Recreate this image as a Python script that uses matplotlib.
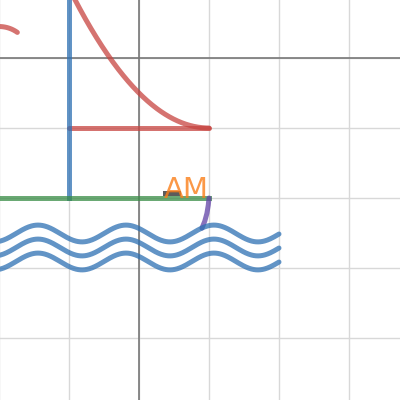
import numpy as np
import matplotlib.pyplot as plt

# Desmos-style colours
red = "#c74440"
blue = "#2d70b3"
green = "#388c46"
purple = "#6042a6"
orange = "#fa7e19"

# curve definitions (graph units)
wave_centers = [-2.507, -2.707, -2.907]
wave_amp = 0.12
wave_freq = 5.0
wave_shift = 0.186
wave_x_range = (-2.1, 2.0)

red_x_range = (-1.0, 1.0)
red_line_y = -1.0
blue_line_x = -1.0
blue_line_top = 1.0
green_line_y = -2.0
green_x_range = (-2.1, 1.0)
purple_x = [1.0, 0.99, 0.97, 0.94, 0.9]
purple_y = [-2.0, -2.1, -2.22, -2.33, -2.43]
label_text = "AM"

fig = plt.figure(figsize=(4, 4), dpi=100)
ax = fig.add_axes([0, 0, 1, 1])
ax.set_xlim(-1.986, 3.729)
ax.set_ylim(-4.886, 0.829)

for gx in np.arange(-2, 4):
    ax.axvline(gx, color="#d8d8d8", lw=1, zorder=0)
for gy in np.arange(-5, 1):
    ax.axhline(gy, color="#d8d8d8", lw=1, zorder=0)
ax.axvline(0, color="#777777", lw=1.2, zorder=1)
ax.axhline(0, color="#777777", lw=1.2, zorder=1)

lw = 3.6
al = 0.75

# red curve and line
x = np.linspace(red_x_range[0] + 0.05, red_x_range[1], 200)
ax.plot(x, 0.5 * (x - 1) ** 2 - 1, color=red, lw=lw, alpha=al, solid_capstyle="round")
ax.plot(red_x_range, [red_line_y, red_line_y], color=red, lw=lw, alpha=al, solid_capstyle="round")
t = np.linspace(np.pi / 2, 0.95, 50)
ax.plot(-2.0 + 0.45 * np.cos(t), 0.0 + 0.45 * np.sin(t), color=red, lw=lw, alpha=al, solid_capstyle="round")

# blue vertical line
ax.plot([blue_line_x, blue_line_x], [green_line_y, blue_line_top], color=blue, lw=lw, alpha=al)

# green line
ax.plot(green_x_range, [green_line_y, green_line_y], color=green, lw=lw, alpha=al)

# label
ax.plot([0.37, 0.56], [-1.93, -1.93], color="#333333", lw=lw, alpha=0.8)
ax.text(0.99, -2.0, label_text, color=orange, alpha=0.8, fontsize=21,
        ha="right", va="baseline", family="DejaVu Sans")

# purple curve
ax.plot(purple_x, purple_y, color=purple, lw=lw, alpha=al, solid_capstyle="round")

# waves
xw = np.linspace(wave_x_range[0], wave_x_range[1], 400)
for c in wave_centers:
    ax.plot(xw, c + wave_amp * np.cos(wave_freq * (xw + wave_shift)), color=blue, lw=lw,
            alpha=al, solid_capstyle="round")

ax.axis("off")
fig.savefig("out.png", dpi=100)
